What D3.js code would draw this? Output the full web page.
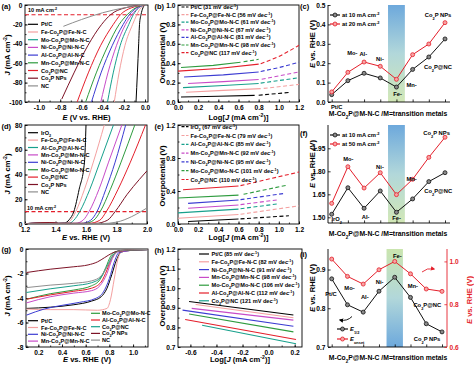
<!DOCTYPE html>
<html>
<head>
<meta charset="utf-8">
<script src="https://cdn.jsdelivr.net/npm/d3@7"></script>
<style>
  body { margin: 0; background: #fff; }
  svg { display: block; }
  text { font-family: 'Liberation Sans', Arial, sans-serif; font-weight: bold; }
</style>
</head>
<body>
<svg id="fig" width="474" height="369"></svg>
<script>
// ---------------- data ----------------
// (a) HER polarization, [E (V vs RHE), J (mA cm-2)]
const herNames = ['Pt/C', 'Fe-Co_{2}P@Fe-N-C', 'Mo-Co_{2}P@Mo-N-C', 'Ni-Co_{2}P@Ni-N-C', 'Al-Co_{2}P@Al-N-C',
  'Mn-Co_{2}P@Mn-N-C', 'Co_{2}P@NC', 'Co_{2}P NPs', 'NC'];
const herLsv = [
  [[-0.085, -100], [-0.072, -70], [-0.06, -40], [-0.052, -20], [-0.038, -10], [-0.02, -3], [0, 0]],
  [[-0.29, -100], [-0.245, -70], [-0.19, -42], [-0.117, -20], [-0.077, -10], [-0.04, -3], [0, 0]],
  [[-0.354, -100], [-0.3, -70], [-0.235, -42], [-0.153, -20], [-0.11, -10], [-0.06, -3], [0, 0]],
  [[-0.417, -100], [-0.35, -70], [-0.27, -42], [-0.184, -20], [-0.124, -10], [-0.065, -3], [0, 0]],
  [[-0.505, -100], [-0.415, -70], [-0.31, -42], [-0.206, -20], [-0.148, -10], [-0.08, -3], [0, 0]],
  [[-0.56, -100], [-0.46, -70], [-0.35, -42], [-0.244, -20], [-0.168, -10], [-0.09, -3], [0, 0]],
  [[-0.64, -100], [-0.535, -70], [-0.42, -42], [-0.299, -20], [-0.232, -10], [-0.13, -3], [0, 0]],
  [[-0.785, -97], [-0.67, -70], [-0.54, -42], [-0.409, -20], [-0.325, -10], [-0.19, -3], [0, 0]],
  [[-0.77, -22], [-0.6, -15], [-0.4, -8], [-0.2, -3], [-0.05, -0.6], [0, 0]]
];

// (b) HER Tafel: fitted (solid) and extended (dashed) parts, [log J, overpotential]
const herTafelNames = ['Pt/C (31 mV dec^{-1})', 'Fe-Co_{2}P@Fe-N-C (56 mV dec^{-1})', 'Mo-Co_{2}P@Mo-N-C (61 mV dec^{-1})',
  'Ni-Co_{2}P@Ni-N-C (67 mV dec^{-1})', 'Al-Co_{2}P@Al-N-C (81 mV dec^{-1})', 'Mn-Co_{2}P@Mn-N-C (98 mV dec^{-1})',
  'Co_{2}P@NC (117 mV dec^{-1})'];
const herTafelFit = [
  [[0.03, 0.052], [0.4, 0.06], [0.76, 0.068]],
  [[0.08, 0.1], [0.45, 0.12], [0.82, 0.138]],
  [[0.05, 0.148], [0.45, 0.17], [0.8, 0.19]],
  [[0.1, 0.19], [0.45, 0.21], [0.8, 0.232]],
  [[0.06, 0.258], [0.45, 0.28], [0.8, 0.31]],
  [[0.03, 0.355], [0.35, 0.378], [0.62, 0.41]],
  [[0.0, 0.318], [0.4, 0.345], [0.8, 0.39]]
];
const herTafelExt = [
  [[0.8, 0.07], [1.1, 0.098]],
  [[0.85, 0.14], [1.2, 0.182]],
  [[0.82, 0.195], [1.2, 0.25]],
  [[0.83, 0.235], [1.2, 0.31]],
  [[0.82, 0.315], [1.0, 0.355], [1.2, 0.41]],
  [[0.65, 0.415], [0.8, 0.44]],
  [[0.82, 0.395], [1.0, 0.47], [1.2, 0.585]]
];

// (c) HER overpotentials (V)
const herCats = ['Pt/C', 'Mo', 'Al', 'Ni', 'Fe', 'Mn', 'Co2P@NC', 'Co2P NPs'];
const herCatLabels = ['Pt/C', 'Mo-', 'Al-', 'Ni-', 'Fe-', 'Mn-', 'Co_{2}P@NC', 'Co_{2}P NPs'];
const herEta10 = [0.038, 0.11, 0.148, 0.124, 0.077, 0.168, 0.232, 0.325];
const herEta20 = [0.052, 0.153, 0.206, 0.184, 0.117, 0.244, 0.299, 0.409];

// (d) OER polarization, [E, J]
const oerNames = ['IrO_{2}', 'Fe-Co_{2}P@Fe-N-C', 'Al-Co_{2}P@Al-N-C', 'Mn-Co_{2}P@Mn-N-C', 'Ni-Co_{2}P@Ni-N-C',
  'Mo-Co_{2}P@Mo-N-C', 'Co_{2}P@NC', 'Co_{2}P NPs', 'NC'];
const oerLsv = [
  [[1.2, 0.3], [1.3, 0.8], [1.36, 1.1], [1.42, 0.5], [1.46, 0.8], [1.49, 3.5], [1.52, 10], [1.555, 28], [1.59, 50], [1.6, 80]],
  [[1.2, 0.3], [1.3, 0.8], [1.36, 1.1], [1.42, 0.5], [1.47, 0.7], [1.5, 3], [1.533, 10], [1.59, 28], [1.648, 50], [1.72, 80]],
  [[1.2, 0.3], [1.3, 0.8], [1.36, 1.1], [1.42, 0.5], [1.49, 0.6], [1.52, 3], [1.559, 10], [1.625, 28], [1.691, 50], [1.78, 80]],
  [[1.2, 0.3], [1.3, 0.8], [1.36, 1.1], [1.42, 0.5], [1.53, 0.5], [1.58, 3], [1.62, 10], [1.685, 28], [1.748, 50], [1.835, 80]],
  [[1.2, 0.3], [1.3, 0.8], [1.36, 1.1], [1.42, 0.5], [1.57, 0.5], [1.63, 3], [1.672, 10], [1.73, 28], [1.791, 50], [1.86, 80]],
  [[1.2, 0.3], [1.3, 0.8], [1.36, 1.1], [1.42, 0.5], [1.59, 0.5], [1.65, 3], [1.693, 10], [1.76, 28], [1.83, 50], [1.92, 80]],
  [[1.2, 0.3], [1.3, 0.8], [1.36, 1.1], [1.42, 0.5], [1.62, 0.5], [1.69, 3], [1.733, 10], [1.81, 28], [1.891, 50], [1.99, 80]],
  [[1.2, 0.3], [1.3, 0.8], [1.36, 1.1], [1.42, 0.5], [1.66, 0.5], [1.74, 3], [1.791, 10], [1.87, 24], [1.95, 36], [2.0, 43]],
  [[1.2, 0.2], [1.5, 0.2], [1.7, 0.3], [1.8, 1.5], [1.9, 6], [1.96, 10], [2.0, 13]]
];

// (e) OER Tafel
const oerTafelNames = ['IrO_{2} (67 mV dec^{-1})', 'Fe-Co_{2}P@Fe-N-C (79 mV dec^{-1})', 'Al-Co_{2}P@Al-N-C (85 mV dec^{-1})',
  'Mn-Co_{2}P@Mn-N-C (92 mV dec^{-1})', 'Ni-Co_{2}P@Ni-N-C (95 mV dec^{-1})', 'Mo-Co_{2}P@Mo-N-C (101 mV dec^{-1})',
  'Co_{2}P@NC (110 mV dec^{-1})'];
const oerTafelFit = [
  [[0.1, 0.03], [0.6, 0.06]],
  [[0.0, 0.07], [0.6, 0.115]],
  [[0.0, 0.135], [0.6, 0.18]],
  [[0.1, 0.19], [0.6, 0.23]],
  [[0.1, 0.25], [0.6, 0.29]],
  [[0.0, 0.315], [0.6, 0.35]],
  [[0.05, 0.415], [0.6, 0.46]]
];
const oerTafelExt = [
  [[0.62, 0.062], [1.1, 0.1]],
  [[0.62, 0.118], [1.2, 0.22]],
  [[0.62, 0.185], [1.0, 0.245]],
  [[0.62, 0.235], [1.0, 0.295]],
  [[0.62, 0.295], [1.05, 0.37]],
  [[0.65, 0.36], [1.08, 0.47]],
  [[0.62, 0.465], [1.2, 0.63]]
];

// (f) OER potentials (V)
const oerCats = ['IrO2', 'Mo', 'Al', 'Ni', 'Fe', 'Mn', 'Co2P@NC', 'Co2P NPs'];
const oerCatLabels = ['IrO_{2}', 'Mo-', 'Al-', 'Ni-', 'Fe-', 'Mn-', 'Co_{2}P@NC', 'Co_{2}P NPs'];
const oerE10 = [1.52, 1.693, 1.559, 1.672, 1.533, 1.62, 1.733, 1.791];
const oerE50 = [1.591, 1.83, 1.691, 1.791, 1.648, 1.748, 1.891, 2.022];

// (g) ORR polarization, [E, J]
const orrNames = ['Pt/C', 'Fe-Co_{2}P@Fe-N-C', 'Ni-Co_{2}P@Ni-N-C', 'Mn-Co_{2}P@Mn-N-C', 'Mo-Co_{2}P@Mo-N-C',
  'Al-Co_{2}P@Al-N-C', 'Co_{2}P@NC', 'Co_{2}P NPs', 'NC'];
const orrLsv = [
  [[0.1, -4.85], [0.3, -4.75], [0.5, -4.55], [0.65, -4.25], [0.73, -3.9], [0.78, -3.2], [0.82, -2.1], [0.86, -0.9], [0.9, -0.25], [1.0, -0.1], [1.12, -0.05]],
  [[0.1, -4.9], [0.3, -4.95], [0.5, -4.95], [0.7, -5.0], [0.78, -4.85], [0.81, -4.1], [0.84, -2.5], [0.87, -0.9], [0.9, -0.25], [1.0, -0.1], [1.12, -0.05]],
  [[0.1, -5.4], [0.25, -4.9], [0.4, -4.6], [0.55, -4.35], [0.68, -4.05], [0.75, -3.5], [0.8, -2.4], [0.84, -1.1], [0.88, -0.3], [1.0, -0.1], [1.12, -0.05]],
  [[0.1, -4.4], [0.3, -3.9], [0.5, -3.6], [0.65, -3.4], [0.72, -3.0], [0.78, -2.0], [0.82, -0.9], [0.87, -0.25], [1.0, -0.1], [1.12, -0.05]],
  [[0.1, -4.1], [0.3, -3.65], [0.5, -3.35], [0.65, -3.0], [0.72, -2.5], [0.77, -1.5], [0.81, -0.6], [0.86, -0.2], [1.0, -0.08], [1.12, -0.05]],
  [[0.1, -4.1], [0.3, -3.75], [0.5, -3.45], [0.65, -3.2], [0.73, -2.7], [0.78, -1.7], [0.82, -0.7], [0.87, -0.2], [1.0, -0.08], [1.12, -0.05]],
  [[0.1, -3.55], [0.3, -3.25], [0.5, -3.0], [0.65, -2.75], [0.73, -2.3], [0.78, -1.4], [0.83, -0.5], [0.88, -0.15], [1.0, -0.08], [1.12, -0.05]],
  [[0.1, -1.92], [0.3, -1.65], [0.5, -1.45], [0.62, -1.3], [0.7, -1.05], [0.76, -0.7], [0.82, -0.35], [0.9, -0.12], [1.0, -0.06], [1.12, -0.04]],
  [[0.1, -3.15], [0.3, -2.95], [0.5, -2.8], [0.65, -2.6], [0.73, -2.2], [0.79, -1.3], [0.84, -0.45], [0.9, -0.12], [1.0, -0.06], [1.12, -0.04]]
];

// (h) ORR Tafel
const orrTafelNames = ['Pt/C (85 mV dec^{-1})', 'Fe-Co_{2}P@Fe-N-C (82 mV dec^{-1})', 'Ni-Co_{2}P@Ni-N-C (91 mV dec^{-1})',
  'Mn-Co_{2}P@Mn-N-C (98 mV dec^{-1})', 'Mo-Co_{2}P@Mo-N-C (106 mV dec^{-1})', 'Al-Co_{2}P@Al-N-C (112 mV dec^{-1})',
  'Co_{2}P@NC (121 mV dec^{-1})'];
const orrTafel = [
  [[-0.61, 0.932], [0.19, 0.863]],
  [[-0.56, 0.917], [0.19, 0.849]],
  [[-0.66, 0.888], [0.19, 0.806]],
  [[-0.59, 0.897], [0.19, 0.837]],
  [[-0.61, 0.868], [0.19, 0.777]],
  [[-0.64, 0.84], [0.21, 0.738]],
  [[-0.51, 0.811], [0.21, 0.717]]
];

// (i) ORR potentials (V)
const orrCats = ['Pt/C', 'Mo', 'Al', 'Ni', 'Fe', 'Mn', 'Co2P@NC', 'Co2P NPs'];
const orrCatLabels = ['Pt/C', 'Mo-', 'Al-', 'Ni-', 'Fe-', 'Mn-', 'Co_{2}P@NC', 'Co_{2}P NPs'];
const orrEhalf = [0.876, 0.809, 0.79, 0.844, 0.88, 0.828, 0.76, 0.739];
const orrEonset = [1.011, 0.93, 0.894, 0.961, 1.0, 0.942, 0.871, 0.86];

// ---------------- styles ----------------
const K = '#000000', PK = '#f4a0a0', TL = '#17a08c', MG = '#c84bc8', BL = '#3c3cd2',
  GR = '#2e9b3e', RD = '#e41f2b', DR = '#7d1326', GY = '#8e8e8e';
const colorsHer = [K, PK, TL, MG, BL, GR, RD, DR, GY];
const colorsOrr = [K, PK, BL, MG, GR, RD, TL, DR, GY];
const colorsOrrTafel = [K, PK, BL, MG, GR, RD, TL];
const FONT = "'Liberation Sans', Arial, sans-serif";

const svg = d3.select('#fig');
const defs = svg.append('defs');

// text with _{sub}, ^{sup} and *{italic}
function rich(t, s) {
  s.split(/([_^*]\{[^}]*\})/).forEach(p => {
    if (!p) return;
    const m = p.match(/^([_^*])\{([^}]*)\}$/);
    if (!m) t.append('tspan').text(p);
    else if (m[1] === '*') t.append('tspan').attr('font-style', 'italic').text(m[2]);
    else t.append('tspan').attr('baseline-shift', m[1] === '_' ? 'sub' : 'super').attr('font-size', '68%').text(m[2]);
  });
  return t;
}
function txt(x, y, s, size, o = {}) {
  const t = svg.append('text').attr('x', x).attr('y', y).attr('font-size', size)
    .attr('text-anchor', o.anchor || 'start').attr('fill', o.fill || '#000');
  if (o.rotate) t.attr('transform', `rotate(${o.rotate},${x},${y})`);
  return rich(t, s);
}

function axis(kind, scale, tx, ty, vals, fmt, color) {
  const g = svg.append('g').attr('transform', `translate(${tx},${ty})`)
    .call(kind(scale).tickValues(vals).tickFormat(fmt || (() => ''))
      .tickSize(fmt ? -2.6 : -1.5).tickPadding(kind === d3.axisBottom ? 3.2 : 2.6).tickSizeOuter(0));
  g.attr('font-size', 6.6).attr('font-family', FONT).attr('font-weight', 'bold').attr('color', color || '#000');
  g.select('.domain').remove();
  g.selectAll('.tick line').attr('stroke-width', 0.8);
  return g;
}

function boxPanel(id, x, y, xt, yt, xf, yf, xm, ym) {
  const [x0, x1] = x.range(), [y1, y0] = y.range();
  axis(d3.axisBottom, x, 0, y1, xt, xf);
  axis(d3.axisLeft, y, x0, 0, yt, yf);
  axis(d3.axisBottom, x, 0, y1, xm, null);
  axis(d3.axisLeft, y, x0, 0, ym, null);
  svg.append('rect').attr('x', x0).attr('y', y0).attr('width', x1 - x0).attr('height', y1 - y0)
    .attr('fill', 'none').attr('stroke', '#000').attr('stroke-width', 0.9);
  defs.append('clipPath').attr('id', id).append('rect')
    .attr('x', x0).attr('y', y0).attr('width', x1 - x0).attr('height', y1 - y0);
  return svg.append('g').attr('clip-path', `url(#${id})`);
}

function curves(g, x, y, series, colors, o = {}) {
  const line = d3.line().x(d => x(d[0])).y(d => y(d[1])).curve(o.curve || d3.curveMonotoneX);
  series.forEach((s, i) => g.append('path').attr('d', line(s)).attr('fill', 'none')
    .attr('stroke', colors[i]).attr('stroke-width', o.w || 1).attr('stroke-dasharray', o.dash || null));
}

function legend(names, colors, x, y, dy, o = {}) {
  const len = o.len || 10;
  names.forEach((n, i) => {
    const yy = y + i * dy;
    svg.append('line').attr('x1', x).attr('x2', x + len).attr('y1', yy).attr('y2', yy)
      .attr('stroke', colors[i]).attr('stroke-width', o.w || 1.2).attr('stroke-dasharray', o.dash || null);
    if (o.marker) svg.append('circle').attr('cx', x + len / 2).attr('cy', yy).attr('r', 2)
      .attr('fill', o.marker[i]).attr('stroke', colors[i]).attr('stroke-width', 0.8);
    txt(x + len + (o.gap || 3), yy + 2, n, o.size || 5.6);
  });
}

const f1 = d => d.toFixed(1), f0 = d => String(d), f2 = d => d.toFixed(2);
const rng = (a, b, s) => d3.range(a, b + s / 2, s).map(v => +v.toFixed(3));

// gradients for the highlight band
function grad(id, top, bottom) {
  const lg = defs.append('linearGradient').attr('id', id).attr('x1', 0).attr('y1', 0).attr('x2', 0).attr('y2', 1);
  lg.append('stop').attr('offset', '0%').attr('stop-color', top);
  lg.append('stop').attr('offset', '50%').attr('stop-color', '#a9d3d6');
  lg.append('stop').attr('offset', '100%').attr('stop-color', bottom);
}
grad('bandBG', '#5d9fd8', '#cde5ae');
grad('bandGB', '#c4e2a6', '#5d9fd8');

['K', 'R'].forEach(k => defs.append('marker').attr('id', 'arr' + k).attr('viewBox', '0 0 10 10')
  .attr('refX', 7).attr('refY', 5).attr('markerWidth', 5).attr('markerHeight', 5).attr('orient', 'auto')
  .append('path').attr('d', 'M0,0L10,5L0,10z').attr('fill', k === 'K' ? '#000' : RD));

// category panel (c, f, i)
function catPanel(cats, y, x0, x1, yTop, yBot, bandId) {
  const x = d3.scalePoint().domain(cats).range([x0 + 3.7, x1 - 5]);
  const st = x.step();
  svg.append('rect').attr('x', x(cats[4]) - 0.52 * st).attr('y', yTop).attr('width', 1.04 * st)
    .attr('height', yBot - yTop).attr('fill', `url(#${bandId})`).attr('opacity', 0.9);
  svg.append('line').attr('x1', x0).attr('x2', x0).attr('y1', yTop).attr('y2', yBot).attr('stroke', '#000').attr('stroke-width', 0.9);
  svg.append('line').attr('x1', x0).attr('x2', x1).attr('y1', yBot).attr('y2', yBot).attr('stroke', '#000').attr('stroke-width', 0.9);
  axis(d3.axisBottom, x, 0, yBot, cats, () => '');
  return x;
}
function catSeries(x, y, cats, vals, color, fill) {
  const line = d3.line().x((d, i) => x(cats[i])).y(d => y(d));
  svg.append('path').attr('d', line(vals)).attr('fill', 'none').attr('stroke', color).attr('stroke-width', 1);
  svg.append('g').selectAll('circle').data(vals).join('circle')
    .attr('cx', (d, i) => x(cats[i])).attr('cy', d => y(d)).attr('r', 2)
    .attr('fill', fill).attr('stroke', color).attr('stroke-width', 0.8);
}
function catLabels(x, y, cats, vals, labels, offs) {
  labels.forEach((l, i) => txt(x(cats[i]) + offs[i][0], y(vals[i]) + offs[i][1], l, 5.8, { anchor: 'middle' }));
}

// ---------------- (a) ----------------
const xa = d3.scaleLinear().domain([-1.132, 0.028]).range([25, 148]);
const ya = d3.scaleLinear().domain([-100, 0]).range([102, 5]);
const ga = boxPanel('clipA', xa, ya, rng(-1.0, 0, 0.2), rng(-100, 0, 20), f1, f0, rng(-1.1, 0, 0.1), rng(-100, 0, 10));
ga.append('line').attr('x1', 25).attr('x2', 148).attr('y1', ya(-10)).attr('y2', ya(-10))
  .attr('stroke', RD).attr('stroke-width', 1.1).attr('stroke-dasharray', '4,2.5');
curves(ga, xa, ya, herLsv, colorsHer);
txt(28, 12, '10 mA cm^{-2}', 5.5);
legend(herNames, colorsHer, 28, 24.3, 7.7);
txt(86.5, 120, '*{E} (V vs. RHE)', 7.6, { anchor: 'middle' });
txt(10, 55, '*{J} (mA cm^{-2})', 7.6, { anchor: 'middle', rotate: -90 });
txt(1.5, 9, '(a)', 7.5);

// ---------------- (b) ----------------
const xb = d3.scaleLinear().domain([0, 1.2]).range([178, 299]);
const yb = d3.scaleLinear().domain([0, 1.0]).range([102, 5]);
const gb = boxPanel('clipB', xb, yb, rng(0, 1.2, 0.2), rng(0, 1, 0.2), f1, f1, rng(0, 1.2, 0.1), rng(0, 1, 0.1));
curves(gb, xb, yb, herTafelFit, colorsHer, { w: 1.1, curve: d3.curveLinear });
curves(gb, xb, yb, herTafelExt, colorsHer, { w: 1.1, dash: '4,2.5' });
legend(herTafelNames, colorsHer, 181.5, 7, 7.6, { len: 7, dash: '3,1.5', gap: 2 });
txt(238.5, 120, 'Log[*{J} (mA cm^{-2})]', 7.6, { anchor: 'middle' });
txt(164.5, 53, 'Overpotential (V)', 7.6, { anchor: 'middle', rotate: -90 });
txt(154.5, 9, '(b)', 7.5);

// ---------------- (c) ----------------
const yc = d3.scaleLinear().domain([0, 0.5]).range([102, 5]);
const xc = catPanel(herCats, yc, 328, 450, 5, 102, 'bandBG');
axis(d3.axisLeft, yc, 328, 0, rng(0, 0.5, 0.1), f1);
catSeries(xc, yc, herCats, herEta10, '#111', '#8a8a8a');
catSeries(xc, yc, herCats, herEta20, RD, '#f7a3a3');
catLabels(xc, yc, herCats, herEta10, herCatLabels,
  [[5, 14.7], [4.4, -26], [-0.8, -17.3], [-0.3, -16.6], [1.2, 8.9], [-1, 17.9], [9.1, 11.7], [-7, -22]]);
legend(['at 10 mA cm^{-2}', 'at 20 mA cm^{-2}'], ['#111', RD], 330, 15, 9, { len: 10, marker: ['#8a8a8a', '#f7a3a3'], gap: 2, size: 5.8 });
txt(388, 116, 'M-Co_{2}P@M-N-C /M=transition metals', 6.8, { anchor: 'middle' });
txt(314.5, 44, '*{E} vs. RHE (V)', 7.6, { anchor: 'middle', rotate: -90 });
txt(300, 9, '(c)', 7.5);

// ---------------- (d) ----------------
const xd = d3.scaleLinear().domain([1.2, 2.0]).range([25, 147]);
const yd = d3.scaleLinear().domain([0, 80]).range([224, 125]);
const gd = boxPanel('clipD', xd, yd, rng(1.2, 2.0, 0.2), rng(0, 80, 20), f1, f0, rng(1.2, 2.0, 0.1), rng(0, 80, 10));
gd.append('line').attr('x1', 25).attr('x2', 147).attr('y1', yd(10)).attr('y2', yd(10))
  .attr('stroke', RD).attr('stroke-width', 1.1).attr('stroke-dasharray', '4,2.5');
curves(gd, xd, yd, oerLsv, colorsHer);
txt(27, 209.5, '10 mA cm^{-2}', 5.5);
legend(oerNames, colorsHer, 28, 132.7, 7.4);
txt(86, 240, '*{E} vs. RHE (V)', 7.6, { anchor: 'middle' });
txt(10, 174, '*{J} (mA cm^{-2})', 7.6, { anchor: 'middle', rotate: -90 });
txt(1.5, 129, '(d)', 7.5);

// ---------------- (e) ----------------
const xe = d3.scaleLinear().domain([0, 1.2]).range([178, 299]);
const ye = d3.scaleLinear().domain([0, 1.2]).range([224, 125]);
const ge = boxPanel('clipE', xe, ye, rng(0, 1.2, 0.2), rng(0, 1.2, 0.4), f1, f1, rng(0, 1.2, 0.1), rng(0, 1.2, 0.2));
curves(ge, xe, ye, oerTafelFit, colorsHer, { w: 1.1, curve: d3.curveLinear });
curves(ge, xe, ye, oerTafelExt, colorsHer, { w: 1.1, dash: '4,2.5', curve: d3.curveLinear });
legend(oerTafelNames, colorsHer, 181.5, 126.7, 8.8, { len: 7, dash: '3,1.5', gap: 2 });
txt(238.5, 240, 'Log[*{J} (mA cm^{-2})]', 7.6, { anchor: 'middle' });
txt(164.5, 176, 'Overpotential (V)', 7.6, { anchor: 'middle', rotate: -90 });
txt(154.5, 129, '(e)', 7.5);

// ---------------- (f) ----------------
const yf = d3.scaleLinear().domain([1.463, 2.102]).range([223, 125]);
const xf = catPanel(oerCats, yf, 328, 450, 125, 223, 'bandBG');
axis(d3.axisLeft, yf, 328, 0, [1.5, 1.65, 1.8, 1.95], f2);
catSeries(xf, yf, oerCats, oerE10, '#111', '#8a8a8a');
catSeries(xf, yf, oerCats, oerE50, RD, '#f7a3a3');
catLabels(xf, yf, oerCats, oerE10, oerCatLabels,
  [[5, 7.1], [0.4, -26.4], [1.6, 11], [-0.3, -21.6], [0.2, 8.1], [-1, -17.6], [9.4, 11.1], [-8.4, -37.4]]);
legend(['at 10 mA cm^{-2}', 'at 50 mA cm^{-2}'], ['#111', RD], 330, 135, 9, { len: 10, marker: ['#8a8a8a', '#f7a3a3'], gap: 2, size: 5.8 });
txt(388, 236, 'M-Co_{2}P@M-N-C /M=transition metals', 6.8, { anchor: 'middle' });
txt(314.5, 164, '*{E} vs. RHE (V)', 7.6, { anchor: 'middle', rotate: -90 });
txt(300, 136, '(f)', 7.5);

// ---------------- (g) ----------------
const xg = d3.scaleLinear().domain([0.096, 1.126]).range([26, 148]);
const yg = d3.scaleLinear().domain([-8, 0]).range([347, 249]);
const gg = boxPanel('clipG', xg, yg, rng(0.2, 1.0, 0.2), rng(-8, 0, 2), f1, f0, rng(0.1, 1.1, 0.1), rng(-8, 0, 1));
curves(gg, xg, yg, orrLsv, colorsOrr);
legend(orrNames.slice(0, 4), colorsOrr.slice(0, 4), 28, 320.7, 6.8);
legend(orrNames.slice(4), colorsOrr.slice(4), 91, 313.3, 6.7, { len: 9, gap: 2 });
txt(87, 362, '*{E} vs. RHE (V)', 7.6, { anchor: 'middle' });
txt(10, 296, '*{J} (mA cm^{-2})', 7.6, { anchor: 'middle', rotate: -90 });
txt(1.5, 252, '(g)', 7.5);

// ---------------- (h) ----------------
const xh = d3.scaleLinear().domain([-0.695, 0.256]).range([178, 302]);
const yh = d3.scaleLinear().domain([0.7, 1.2]).range([347, 249]);
const gh = boxPanel('clipH', xh, yh, rng(-0.6, 0.2, 0.2), rng(0.7, 1.2, 0.1), f1, f1, rng(-0.6, 0.2, 0.1), rng(0.7, 1.2, 0.05));
curves(gh, xh, yh, orrTafel, colorsOrrTafel, { w: 1.1, curve: d3.curveLinear });
legend(orrTafelNames, colorsOrrTafel, 199, 254, 7.8, { len: 10, gap: 2.5 });
txt(240, 362, 'Log[*{J} (mA cm^{-2})]', 7.6, { anchor: 'middle' });
txt(164.5, 296, 'Overpotential (V)', 7.6, { anchor: 'middle', rotate: -90 });
txt(154.5, 253, '(h)', 7.5);

// ---------------- (i) ----------------
const yi = d3.scaleLinear().domain([0.7, 0.953]).range([347, 249]);
const yr = d3.scaleLinear().domain([0.6, 1.058]).range([347, 249]);
const xi = catPanel(orrCats, yi, 328, 447, 249, 347, 'bandGB');
svg.append('line').attr('x1', 447).attr('x2', 447).attr('y1', 249).attr('y2', 347).attr('stroke', RD).attr('stroke-width', 0.9);
axis(d3.axisLeft, yi, 328, 0, [0.7, 0.8, 0.9], f1);
axis(d3.axisRight, yr, 447, 0, [0.6, 0.8, 1.0], f1, RD);
catSeries(xi, yi, orrCats, orrEhalf, '#111', '#8a8a8a');
catSeries(xi, yr, orrCats, orrEonset, RD, '#f7a3a3');
catLabels(xi, yi, orrCats, orrEhalf, orrCatLabels,
  [[-0.7, 17.2], [2, -14.5], [1.6, -13.4], [0.7, -7.5], [2.5, -19.3], [2.3, -9.4], [1.1, -16.8], [-15, 9.1]]);
legend(['*{E}_{1/2}', '*{E}_{onset}'], ['#111', RD], 337, 329, 10, { len: 11, marker: ['#8a8a8a', '#f7a3a3'], gap: 2, size: 5.8 });
svg.append('path').attr('d', 'M352,316.5 Q347,321.5 340,320').attr('fill', 'none').attr('stroke', '#000')
  .attr('stroke-width', 0.9).attr('marker-end', 'url(#arrK)');
svg.append('path').attr('d', 'M422,272 Q427,267.5 434,269').attr('fill', 'none').attr('stroke', RD)
  .attr('stroke-width', 0.9).attr('marker-end', 'url(#arrR)');
txt(388, 360, 'M-Co_{2}P@M-N-C /M=transition metals', 6.8, { anchor: 'middle' });
txt(314.5, 288, '*{E} vs. RHE (V)', 7.6, { anchor: 'middle', rotate: -90 });
txt(471.5, 300, '*{E} vs. RHE (V)', 7.6, { anchor: 'middle', rotate: -90, fill: RD });
txt(300, 257, '(i)', 7.5);
</script>
</body>
</html>
